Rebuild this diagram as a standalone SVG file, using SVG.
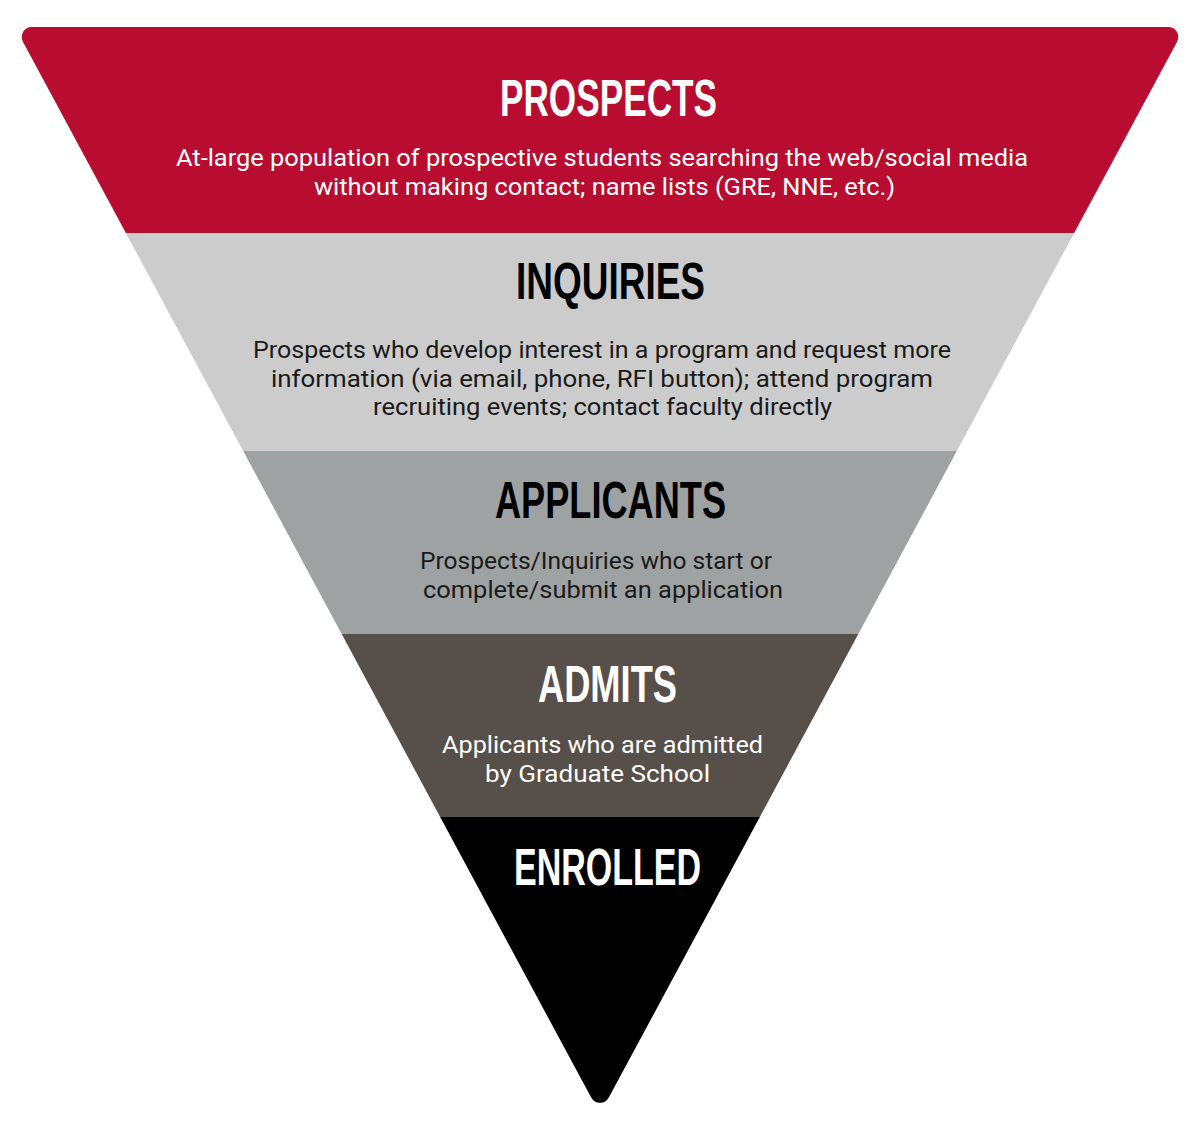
<svg xmlns="http://www.w3.org/2000/svg" width="1200" height="1122" viewBox="0 0 1200 1122">
<style>
.title{font-family:"Liberation Sans Narrow","Liberation Sans",Arial,sans-serif;font-weight:bold;font-size:52px}
.body{font-family:Roboto,"Open Sans",sans-serif;font-size:23px}
.w{fill:#ffffff}
.k{fill:#000000}
.d{fill:#1a1a1a}
</style>
<defs>
<clipPath id="funnel">
<path d="M31.7,27 H1168.3 A10,10 0 0 1 1177.1,41.7 L608.8,1097.6 A10,10 0 0 1 591.2,1097.6 L22.9,41.7 A10,10 0 0 1 31.7,27 Z"/>
</clipPath>
</defs>
<rect width="1200" height="1122" fill="#ffffff"/>
<g clip-path="url(#funnel)">
<g id="prospects">
<rect x="0" y="0" width="1200" height="233" fill="#b80d30"/>
<text class="title w" x="500" y="116" textLength="217" lengthAdjust="spacingAndGlyphs">PROSPECTS</text>
<text class="body w" x="176" y="166" textLength="852" lengthAdjust="spacingAndGlyphs">At-large population of prospective students searching the web/social media</text>
<text class="body w" x="314" y="195" textLength="581" lengthAdjust="spacingAndGlyphs">without making contact; name lists (GRE, NNE, etc.)</text>
</g>
<g id="inquiries">
<rect x="0" y="233" width="1200" height="218" fill="#cccccc"/>
<text class="title k" x="516" y="299" textLength="189" lengthAdjust="spacingAndGlyphs">INQUIRIES</text>
<text class="body d" x="253" y="358" textLength="698" lengthAdjust="spacingAndGlyphs">Prospects who develop interest in a program and request more</text>
<text class="body d" x="271" y="387" textLength="662" lengthAdjust="spacingAndGlyphs">information (via email, phone, RFI button); attend program</text>
<text class="body d" x="373" y="415" textLength="459" lengthAdjust="spacingAndGlyphs">recruiting events; contact faculty directly</text>
</g>
<g id="applicants">
<rect x="0" y="451" width="1200" height="183" fill="#9fa2a2"/>
<text class="title k" x="495" y="518" textLength="231" lengthAdjust="spacingAndGlyphs">APPLICANTS</text>
<text class="body d" x="420" y="569" textLength="352" lengthAdjust="spacingAndGlyphs">Prospects/Inquiries who start or</text>
<text class="body d" x="423" y="598" textLength="360" lengthAdjust="spacingAndGlyphs">complete/submit an application</text>
</g>
<g id="admits">
<rect x="0" y="634" width="1200" height="183" fill="#574f4a"/>
<text class="title w" x="538" y="702" textLength="139" lengthAdjust="spacingAndGlyphs">ADMITS</text>
<text class="body w" x="442" y="753" textLength="321" lengthAdjust="spacingAndGlyphs">Applicants who are admitted</text>
<text class="body w" x="485" y="782" textLength="225" lengthAdjust="spacingAndGlyphs">by Graduate School</text>
</g>
<g id="enrolled">
<rect x="0" y="817" width="1200" height="305" fill="#000000"/>
<text class="title w" x="514" y="885" textLength="187" lengthAdjust="spacingAndGlyphs">ENROLLED</text>
</g>
</g>
<g id="connectors"/>
</svg>
